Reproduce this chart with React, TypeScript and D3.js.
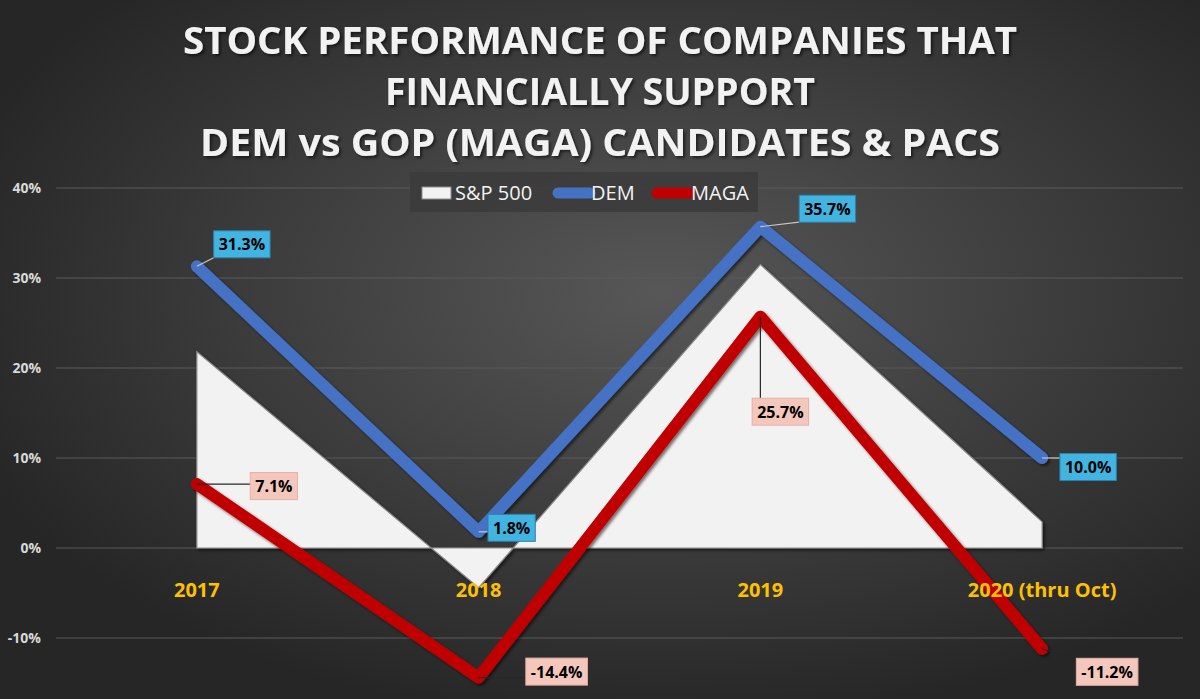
import * as d3 from "d3";
import React, { useEffect, RefObject } from "react";

// chart data
const categories: string[] = ["2017", "2018", "2019", "2020 (thru Oct)"];
const sp500: number[] = [21.8, -4.4, 31.5, 2.9];
const dem: number[] = [31.3, 1.8, 35.7, 10.0];
const maga: number[] = [7.1, -14.4, 25.7, -11.2];
const yTicks: number[] = [-10, 0, 10, 20, 30, 40];
const titleLines: string[] = [
	"STOCK PERFORMANCE OF COMPANIES THAT",
	"FINANCIALLY SUPPORT",
	"DEM vs GOP (MAGA) CANDIDATES & PACS",
];

// where the data label boxes sit, relative to their point
const demLabelOffsets: [number, number][] = [
	[45, -22],
	[33, -4],
	[67, -18],
	[46, 9],
];
const magaLabelOffsets: [number, number][] = [
	[77, 2],
	[78, -6],
	[20, 95],
	[65, 23],
];

const App = () => {
	const ref: RefObject<HTMLDivElement> = React.createRef();

	useEffect(() => draw());

	const draw = () => {
		document.body.style.margin = "0";
		const width: number = 1200;
		const height: number = 699;
		const font: string = "'Open Sans', 'DejaVu Sans', sans-serif";

		d3.select(ref.current).selectAll("svg").remove();

		const svg = d3
			.select(ref.current)
			.append("svg")
			.attr("width", width)
			.attr("height", height)
			.style("display", "block");

		const defs = svg.append("defs");
		const grad = defs
			.append("radialGradient")
			.attr("id", "bg")
			.attr("cx", "55%")
			.attr("cy", "42%")
			.attr("r", "62%");
		grad.append("stop").attr("offset", "0%").attr("stop-color", "#575757");
		grad.append("stop").attr("offset", "100%").attr("stop-color", "#262626");

		const shadow = defs.append("filter").attr("id", "shadow");
		shadow
			.append("feDropShadow")
			.attr("dx", 2)
			.attr("dy", 2)
			.attr("stdDeviation", 1.8)
			.attr("flood-color", "#000")
			.attr("flood-opacity", 0.55);

		svg.append("rect")
			.attr("width", width)
			.attr("height", height)
			.attr("fill", "url(#bg)");

		const xScale = d3
			.scalePoint<string>()
			.domain(categories)
			.range([56, 1183])
			.padding(0.5);
		const yScale = d3.scaleLinear().domain([-10, 40]).range([638, 188]);

		// gridlines + y labels
		yTicks.forEach((t) => {
			svg.append("line")
				.attr("x1", 56)
				.attr("x2", 1183)
				.attr("y1", yScale(t))
				.attr("y2", yScale(t))
				.attr("stroke", "#5a5a5a")
				.attr("stroke-width", 1);
			svg.append("text")
				.attr("x", 41)
				.attr("y", yScale(t) + 5)
				.attr("text-anchor", "end")
				.attr("font-family", font)
				.attr("font-weight", 700)
				.attr("font-size", 14)
				.attr("fill", "#d9d9d9")
				.text(`${t}%`);
		});

		// S&P 500 area
		const area = d3
			.area<number>()
			.x((d, i) => xScale(categories[i]) as number)
			.y0(yScale(0))
			.y1((d) => yScale(d));
		svg.append("path")
			.datum(sp500)
			.attr("d", area)
			.attr("fill", "#f2f2f2")
			.attr("stroke", "#8c8c8c")
			.attr("stroke-width", 1.2)
			.attr("filter", "url(#shadow)");

		const line = d3
			.line<number>()
			.x((d, i) => xScale(categories[i]) as number)
			.y((d) => yScale(d));

		const addLine = (values: number[], color: string) => {
			svg.append("path")
				.datum(values)
				.attr("d", line)
				.attr("fill", "none")
				.attr("stroke", color)
				.attr("stroke-width", 12)
				.attr("stroke-linejoin", "round")
				.attr("stroke-linecap", "round")
				.attr("filter", "url(#shadow)");
		};
		addLine(dem, "#4472c4");
		addLine(maga, "#c00000");

		// x category labels (on top of the lines)
		categories.forEach((c) => {
			svg.append("text")
				.attr("x", xScale(c) as number)
				.attr("y", 597)
				.attr("text-anchor", "middle")
				.attr("font-family", font)
				.attr("font-weight", 700)
				.attr("font-size", 20)
				.attr("fill", "#ffc000")
				.text(c);
		});

		const addLabels = (
			values: number[],
			offsets: [number, number][],
			fill: string,
			border: string,
			leader: string
		) => {
			values.forEach((v, i) => {
				const px = xScale(categories[i]) as number;
				const py = yScale(v);
				const cx = px + offsets[i][0];
				const cy = py + offsets[i][1];
				const g = svg.append("g");
				const leaderLine = g.append("line");
				const box = g.append("rect");
				const txt = g
					.append("text")
					.attr("x", cx)
					.attr("y", cy + 6)
					.attr("text-anchor", "middle")
					.attr("font-family", font)
					.attr("font-weight", 700)
					.attr("font-size", 16)
					.attr("fill", "#000")
					.text(`${v.toFixed(1)}%`);
				const w = (txt.node() as SVGTextElement).getComputedTextLength() + 10;
				const h = 27;
				box.attr("x", cx - w / 2)
					.attr("y", cy - h / 2)
					.attr("width", w)
					.attr("height", h)
					.attr("fill", fill)
					.attr("stroke", border)
					.attr("stroke-width", 1);
				const tx = Math.max(cx - w / 2, Math.min(px, cx + w / 2));
				const ty = Math.max(cy - h / 2, Math.min(py, cy + h / 2));
				leaderLine
					.attr("x1", px)
					.attr("y1", py)
					.attr("x2", tx)
					.attr("y2", ty)
					.attr("stroke", leader)
					.attr("stroke-width", 1.2);
			});
		};
		addLabels(dem, demLabelOffsets, "#42b4e2", "#2f7fa6", "#c8c8c8");
		addLabels(maga, magaLabelOffsets, "#f4c7bd", "#e7b0a4", "#262626");

		// legend
		svg.append("rect")
			.attr("x", 410)
			.attr("y", 172)
			.attr("width", 348)
			.attr("height", 40)
			.attr("fill", "#3b3b3b")
			.attr("opacity", 0.85);
		svg.append("rect")
			.attr("x", 422)
			.attr("y", 187)
			.attr("width", 29)
			.attr("height", 12)
			.attr("fill", "#f2f2f2")
			.attr("stroke", "#8c8c8c");
		const legendLine = (x: number, color: string) => {
			svg.append("line")
				.attr("x1", x)
				.attr("x2", x + 32)
				.attr("y1", 193)
				.attr("y2", 193)
				.attr("stroke", color)
				.attr("stroke-width", 11)
				.attr("stroke-linecap", "round");
		};
		legendLine(558, "#4472c4");
		legendLine(657, "#c00000");
		[
			["S&P 500", 455],
			["DEM", 591],
			["MAGA", 691],
		].forEach(([t, x]) => {
			svg.append("text")
				.attr("x", x as number)
				.attr("y", 200)
				.attr("font-family", font)
				.attr("font-size", 20)
				.attr("fill", "#f2f2f2")
				.text(t as string);
		});

		// title
		const titleWidths: number[] = [834, 430, 800];
		titleLines.forEach((t, i) => {
			svg.append("text")
				.attr("x", 600)
				.attr("y", 54 + i * 51)
				.attr("text-anchor", "middle")
				.attr("font-family", font)
				.attr("font-weight", 700)
				.attr("font-size", 37)
				.attr("textLength", titleWidths[i])
				.attr("lengthAdjust", "spacingAndGlyphs")
				.attr("fill", "#f2f2f2")
				.attr("filter", "url(#shadow)")
				.text(t);
		});
	};

	return <div ref={ref}></div>;
};

export default App;
